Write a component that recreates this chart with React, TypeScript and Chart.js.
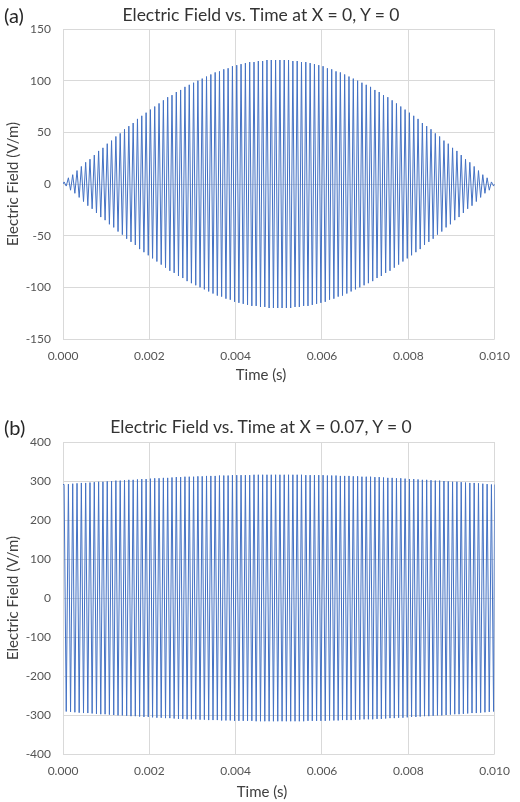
import React, { useEffect, useRef } from "react";
import { Chart, registerables } from "chart.js";

Chart.register(...registerables);

// ---------- data ----------
const PERIOD_S = 0.0001; // one oscillation cycle
const T_MAX = 0.01;
const xTickStep = 0.002;

// panel (a): peak magnitude of each of the 100 cycles
const ampA = [
  2, 6, 9, 13, 17, 21, 24, 28, 32, 35,
  39, 42, 46, 49, 53, 56, 59, 63, 66, 69,
  72, 75, 78, 81, 84, 86, 89, 91, 94, 96,
  98, 100, 102, 104, 106, 108, 109, 111, 112, 114,
  115, 116, 117, 118, 118, 119, 119, 120, 120, 120,
  120, 120, 120, 119, 119, 118, 118, 117, 116, 115,
  114, 112, 111, 109, 108, 106, 104, 102, 100, 98,
  96, 94, 91, 89, 86, 84, 81, 78, 75, 72,
  69, 66, 63, 59, 56, 53, 49, 46, 42, 39,
  35, 32, 28, 24, 21, 17, 13, 9, 6, 2,
];
const startA = 0;
const endA = 0;

// panel (b): peak magnitude of each of the 100 cycles
const ampB = [
  291, 292, 293, 294, 295, 295, 296, 297, 298, 298,
  299, 300, 301, 301, 302, 303, 303, 304, 305, 305,
  306, 307, 307, 308, 308, 309, 310, 310, 311, 311,
  311, 312, 312, 313, 313, 313, 314, 314, 314, 315,
  315, 315, 315, 315, 316, 316, 316, 316, 316, 316,
  316, 316, 316, 316, 316, 316, 315, 315, 315, 315,
  315, 314, 314, 314, 313, 313, 313, 312, 312, 311,
  311, 311, 310, 310, 309, 308, 308, 307, 307, 306,
  305, 305, 304, 303, 303, 302, 301, 301, 300, 299,
  298, 298, 297, 296, 295, 295, 294, 293, 292, 291,
];
const startB = 291;
const endB = 291;

const titleA = "Electric Field vs. Time at X = 0, Y = 0";
const titleB = "Electric Field vs. Time at X = 0.07, Y = 0";
const xTitle = "Time (s)";
const yTitle = "Electric Field (V/m)";
const yRangeA = [-150, 150, 50];
const yRangeB = [-400, 400, 100];

// ---------- helpers ----------
function buildPoints(amps: number[], start: number, end: number) {
  const pts: { x: number; y: number }[] = [{ x: 0, y: start }];
  amps.forEach((a, k) => {
    pts.push({ x: (k + 0.25) * PERIOD_S, y: a });
    pts.push({ x: (k + 0.75) * PERIOD_S, y: -a });
  });
  pts.push({ x: T_MAX, y: end });
  return pts;
}

const FONT = "Lato, 'Open Sans', sans-serif";
const GRID = "#d9d9d9";
const TICK = "#555555";

function Panel(props: {
  top: number;
  height: number;
  padTop: number;
  xAxisH: number;
  amps: number[];
  start: number;
  end: number;
  yRange: number[];
}) {
  const ref = useRef<HTMLCanvasElement | null>(null);
  useEffect(() => {
    if (!ref.current) return;
    const chart = new Chart(ref.current, {
      type: "line",
      data: {
        datasets: [
          {
            data: buildPoints(props.amps, props.start, props.end),
            borderColor: "#4472C4",
            borderWidth: 1,
            pointRadius: 0,
            tension: 0,
            fill: false,
          },
        ],
      },
      options: {
        animation: false,
        responsive: false,
        events: [],
        layout: { padding: { top: props.padTop, right: 21, left: 0, bottom: 0 } },
        plugins: { legend: { display: false }, tooltip: { enabled: false }, title: { display: false } },
        scales: {
          x: {
            type: "linear",
            min: 0,
            max: T_MAX,
            afterFit: (s: any) => {
              s.height = props.xAxisH;
            },
            ticks: {
              stepSize: xTickStep,
              color: TICK,
              font: { family: FONT, size: 12 },
              padding: 10,
              maxRotation: 0,
              callback: (v: any) => Number(v).toFixed(3),
            },
            grid: { color: GRID, lineWidth: 1, drawTicks: false },
            border: { display: false },
            title: { display: false },
          },
          y: {
            type: "linear",
            min: props.yRange[0],
            max: props.yRange[1],
            afterFit: (s: any) => {
              s.width = 63;
            },
            ticks: {
              stepSize: props.yRange[2],
              color: TICK,
              font: { family: FONT, size: 12 },
              padding: 12,
            },
            grid: { color: GRID, lineWidth: 1, drawTicks: false },
            border: { display: false },
            title: {
              display: true,
              text: yTitle,
              color: "#404040",
              font: { family: FONT, size: 15 },
              padding: { top: 4, bottom: 0 },
            },
          },
        },
      },
    });
    return () => chart.destroy();
  }, []);
  return (
    <canvas
      ref={ref}
      width={520}
      height={props.height}
      style={{ position: "absolute", left: 0, top: props.top, width: 520, height: props.height }}
    />
  );
}

const labelStyle: React.CSSProperties = {
  position: "absolute",
  fontFamily: FONT,
  whiteSpace: "nowrap",
  lineHeight: "20px",
};

export default function App() {
  return (
    <div
      style={{
        position: "fixed",
        left: 0,
        top: 0,
        width: 520,
        height: 802,
        background: "#fff",
        overflow: "hidden",
      }}
    >
      <Panel top={0} height={390} padTop={29} xAxisH={51} amps={ampA} start={startA} end={endA} yRange={yRangeA} />
      <Panel top={390} height={412} padTop={52} xAxisH={48} amps={ampB} start={startB} end={endB} yRange={yRangeB} />

      <div style={{ ...labelStyle, left: 4, top: 5, fontSize: 20, color: "#262626" }}>(a)</div>
      <div style={{ ...labelStyle, left: 0, width: 522, textAlign: "center", top: 5, fontSize: 17.5, color: "#333" }}>
        {titleA}
      </div>
      <div style={{ ...labelStyle, left: 0, width: 522, textAlign: "center", top: 364, fontSize: 15, color: "#404040" }}>
        {xTitle}
      </div>

      <div style={{ ...labelStyle, left: 4, top: 417, fontSize: 20, color: "#262626" }}>(b)</div>
      <div style={{ ...labelStyle, left: 0, width: 522, textAlign: "center", top: 417, fontSize: 17.5, color: "#333" }}>
        {titleB}
      </div>
      <div style={{ ...labelStyle, left: 0, width: 524, textAlign: "center", top: 781, fontSize: 15, color: "#404040" }}>
        {xTitle}
      </div>
    </div>
  );
}
